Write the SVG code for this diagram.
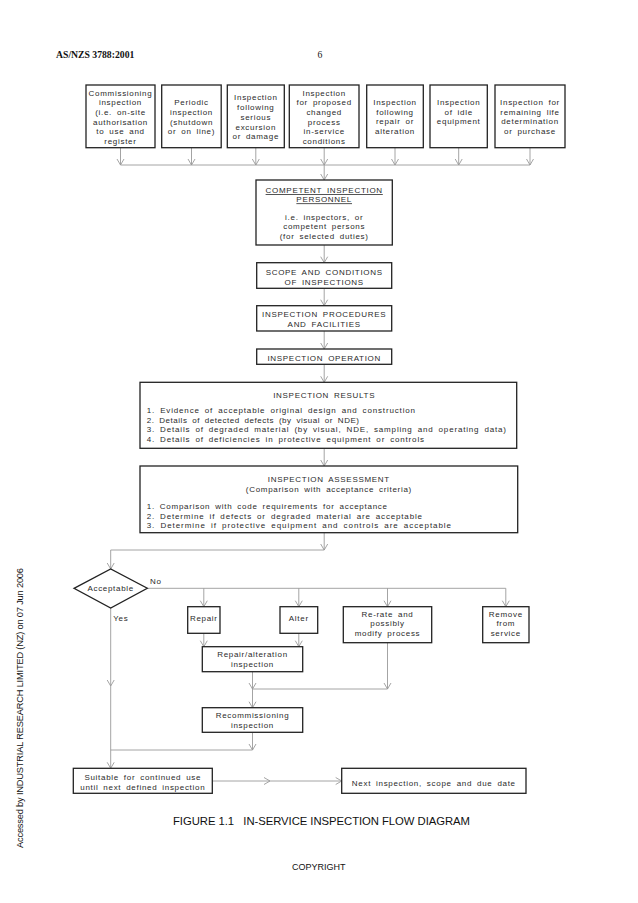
<svg xmlns="http://www.w3.org/2000/svg" width="638" height="903" viewBox="0 0 638 903">
<style>
.box{fill:#fff;stroke:#222;stroke-width:1.3}
.t{font-family:"Liberation Sans",Arial,sans-serif;font-size:8px;letter-spacing:0.7px;word-spacing:2px;fill:#2a2a2a;text-anchor:middle}
.l{text-anchor:start}
.u{text-decoration:underline}
.c{stroke:#9a9a9a;stroke-width:0.9;fill:none;marker-end:url(#a)}
.n{stroke:#9a9a9a;stroke-width:0.9;fill:none}
</style>
<defs>
<marker id="a" viewBox="-7 -5 8 10" refX="0" refY="0" markerWidth="8" markerHeight="10" markerUnits="userSpaceOnUse" orient="auto"><path d="M-6,-3.5 L0,0 L-6,3.5" fill="none" stroke="#9a9a9a" stroke-width="0.9"/></marker>
</defs>
<rect width="638" height="903" fill="#fff"/>
<text x="56" y="57.5" font-family="Liberation Serif,serif" font-weight="bold" font-size="9.7" fill="#111">AS/NZS 3788:2001</text>
<text x="317.5" y="57.5" font-family="Liberation Serif,serif" font-size="9.7" fill="#111">6</text>
<text transform="translate(22.5,708) rotate(-90)" text-anchor="middle" font-family="Liberation Sans,Arial,sans-serif" font-size="9.3" fill="#111" textLength="280" lengthAdjust="spacing">Accessed by INDUSTRIAL RESEARCH LIMITED (NZ) on 07 Jun 2006</text>

<g id="connectors">
<path class="c" d="M120.5,148V165"/>
<path class="c" d="M191.5,148V165"/>
<path class="c" d="M255.8,148V165"/>
<path class="c" d="M324.2,148V165"/>
<path class="c" d="M395,148V165"/>
<path class="c" d="M458.7,148V165"/>
<path class="c" d="M530,148V165"/>
<path class="n" d="M120.5,165H530"/>
<path class="c" d="M324.2,165V180"/>
<path class="c" d="M324.2,245V262.7"/>
<path class="c" d="M324.2,288.3V305.7"/>
<path class="c" d="M324.2,331V349"/>
<path class="c" d="M324.2,364.3V382.3"/>
<path class="c" d="M324.2,448.3V466"/>
<path class="c" d="M324.2,533V550"/>
<path class="c" d="M324.2,550H110.7V569"/>
<path class="n" d="M147.3,588.3H505.8"/>
<path class="c" d="M203.8,588.3V606.7"/>
<path class="c" d="M298.8,588.3V606.7"/>
<path class="c" d="M387.5,588.3V606.7"/>
<path class="c" d="M505.8,588.3V606.7"/>
<path class="c" d="M203.8,633.3V646.7"/>
<path class="c" d="M298.8,633.3V646.7"/>
<path class="c" d="M252.5,671.7V689"/>
<path class="n" d="M252.5,689H387.5"/>
<path class="c" d="M387.5,642.7V689"/>
<path class="c" d="M252.5,689V707.7"/>
<path class="c" d="M252.5,732.3V750"/>
<path class="n" d="M110.7,750H252.5"/>
<path class="c" d="M110.7,608V686"/>
<path class="c" d="M110.7,686V768.3"/>
<path class="c" d="M212.3,781H270"/>
<path class="c" d="M270,781H341.7"/>
</g>

<g id="commissioning">
<rect class="box" x="86" y="85" width="69" height="62.7"/>
<text class="t" x="120.5" y="95.7">Commissioning</text>
<text class="t" x="120.5" y="105.2">inspection</text>
<text class="t" x="120.5" y="114.9">(i.e. on-site</text>
<text class="t" x="120.5" y="124.6">authorisation</text>
<text class="t" x="120.5" y="134.3">to use and</text>
<text class="t" x="120.5" y="144">register</text>
</g>
<g id="periodic">
<rect class="box" x="161.7" y="85" width="59.5" height="62.7"/>
<text class="t" x="191.5" y="105.3">Periodic</text>
<text class="t" x="191.5" y="115">inspection</text>
<text class="t" x="191.5" y="124.7">(shutdown</text>
<text class="t" x="191.5" y="134.4">or on line)</text>
</g>
<g id="excursion">
<rect class="box" x="227.3" y="85" width="57" height="62.7"/>
<text class="t" x="255.8" y="100.3">Inspection</text>
<text class="t" x="255.8" y="110.1">following</text>
<text class="t" x="255.8" y="119.8">serious</text>
<text class="t" x="255.8" y="129.5">excursion</text>
<text class="t" x="255.8" y="139.2">or damage</text>
</g>
<g id="changed-process">
<rect class="box" x="289.3" y="85" width="69.7" height="62.7"/>
<text class="t" x="324.2" y="95.7">Inspection</text>
<text class="t" x="324.2" y="105.2">for proposed</text>
<text class="t" x="324.2" y="114.9">changed</text>
<text class="t" x="324.2" y="124.6">process</text>
<text class="t" x="324.2" y="134.3">in-service</text>
<text class="t" x="324.2" y="144">conditions</text>
</g>
<g id="repair-alteration">
<rect class="box" x="366.7" y="85" width="56.6" height="62.7"/>
<text class="t" x="395" y="105">Inspection</text>
<text class="t" x="395" y="114.7">following</text>
<text class="t" x="395" y="124.4">repair or</text>
<text class="t" x="395" y="134.1">alteration</text>
</g>
<g id="idle">
<rect class="box" x="430" y="85" width="57.3" height="62.7"/>
<text class="t" x="458.7" y="105">Inspection</text>
<text class="t" x="458.7" y="114.7">of idle</text>
<text class="t" x="458.7" y="124.4">equipment</text>
</g>
<g id="remaining-life">
<rect class="box" x="495" y="85" width="70" height="62.7"/>
<text class="t" x="530" y="105">Inspection for</text>
<text class="t" x="530" y="114.7">remaining life</text>
<text class="t" x="530" y="124.4">determination</text>
<text class="t" x="530" y="134.1">or purchase</text>
</g>

<g id="personnel">
<rect class="box" x="256" y="180" width="136.3" height="65"/>
<text class="t u" x="324.2" y="193">COMPETENT INSPECTION</text>
<text class="t u" x="324.2" y="202.3">PERSONNEL</text>
<text class="t" x="324.2" y="219.5">i.e. inspectors, or</text>
<text class="t" x="324.2" y="229">competent persons</text>
<text class="t" x="324.2" y="238.7">(for selected duties)</text>
</g>
<g id="scope">
<rect class="box" x="256.7" y="262.7" width="135" height="25.6"/>
<text class="t" x="324.2" y="274.6">SCOPE AND CONDITIONS</text>
<text class="t" x="324.2" y="284.6">OF INSPECTIONS</text>
</g>
<g id="procedures">
<rect class="box" x="256.7" y="305.7" width="135" height="25.3"/>
<text class="t" x="324.2" y="317.2">INSPECTION PROCEDURES</text>
<text class="t" x="324.2" y="327">AND FACILITIES</text>
</g>
<g id="operation">
<rect class="box" x="256.7" y="349" width="135" height="15.3"/>
<text class="t" x="324.2" y="360.6">INSPECTION OPERATION</text>
</g>
<g id="results">
<rect class="box" x="140" y="382.3" width="376.7" height="66"/>
<text class="t" x="324.2" y="397.5">INSPECTION RESULTS</text>
<text class="t l" x="146.7" y="413" textLength="269" lengthAdjust="spacing">1. Evidence of acceptable original design and construction</text>
<text class="t l" x="146.7" y="422.7" textLength="213" lengthAdjust="spacing">2. Details of detected defects (by visual or NDE)</text>
<text class="t l" x="146.7" y="432.3" textLength="360" lengthAdjust="spacing">3. Details of degraded material (by visual, NDE, sampling and operating data)</text>
<text class="t l" x="146.7" y="442" textLength="278" lengthAdjust="spacing">4. Details of deficiencies in protective equipment or controls</text>
</g>
<g id="assessment">
<rect class="box" x="140" y="466" width="377.7" height="66.7"/>
<text class="t" x="328.9" y="482">INSPECTION ASSESSMENT</text>
<text class="t" x="328.9" y="491.7">(Comparison with acceptance criteria)</text>
<text class="t l" x="146.7" y="509" textLength="241" lengthAdjust="spacing">1. Comparison with code requirements for acceptance</text>
<text class="t l" x="146.7" y="518.7" textLength="276" lengthAdjust="spacing">2. Determine if defects or degraded material are acceptable</text>
<text class="t l" x="146.7" y="528" textLength="305" lengthAdjust="spacing">3. Determine if protective equipment and controls are acceptable</text>
</g>
<g id="acceptable">
<path class="box" d="M74,588.3L110.7,569L147.3,588.3L110.7,608Z"/>
<text class="t" x="110.7" y="591.2">Acceptable</text>
<text class="t l" x="150" y="584">No</text>
<text class="t l" x="113.3" y="620.5">Yes</text>
</g>
<g id="repair">
<rect class="box" x="187.7" y="606.7" width="32.3" height="26.6"/>
<text class="t" x="203.8" y="621">Repair</text>
</g>
<g id="alter">
<rect class="box" x="280" y="606.7" width="37.7" height="26.6"/>
<text class="t" x="298.8" y="621">Alter</text>
</g>
<g id="rerate">
<rect class="box" x="343.3" y="606.7" width="88.4" height="36"/>
<text class="t" x="387.5" y="617">Re-rate and</text>
<text class="t" x="387.5" y="626.4">possibly</text>
<text class="t" x="387.5" y="636">modify process</text>
</g>
<g id="remove">
<rect class="box" x="482.7" y="606.7" width="46.3" height="36"/>
<text class="t" x="505.8" y="617">Remove</text>
<text class="t" x="505.8" y="626.4">from</text>
<text class="t" x="505.8" y="636">service</text>
</g>
<g id="repair-inspection">
<rect class="box" x="202.3" y="646.7" width="100.4" height="25"/>
<text class="t" x="252.5" y="657.3">Repair/alteration</text>
<text class="t" x="252.5" y="667">inspection</text>
</g>
<g id="recommissioning">
<rect class="box" x="202.3" y="707.7" width="100.4" height="24.6"/>
<text class="t" x="252.5" y="718">Recommissioning</text>
<text class="t" x="252.5" y="728">inspection</text>
</g>
<g id="suitable">
<rect class="box" x="73.3" y="768.3" width="139" height="25"/>
<text class="t" x="142.8" y="779.7">Suitable for continued use</text>
<text class="t" x="142.8" y="789.7">until next defined inspection</text>
</g>
<g id="next">
<rect class="box" x="341.7" y="768.3" width="184.3" height="25"/>
<text class="t" x="433.8" y="785.7">Next inspection, scope and due date</text>
</g>

<text x="173" y="825" font-family="Liberation Sans,Arial,sans-serif" font-size="11.3" fill="#111" textLength="297" lengthAdjust="spacing" xml:space="preserve">FIGURE 1.1   IN-SERVICE INSPECTION FLOW DIAGRAM</text>
<text x="318.7" y="870" text-anchor="middle" font-family="Liberation Sans,Arial,sans-serif" font-size="9" fill="#111">COPYRIGHT</text>
</svg>
